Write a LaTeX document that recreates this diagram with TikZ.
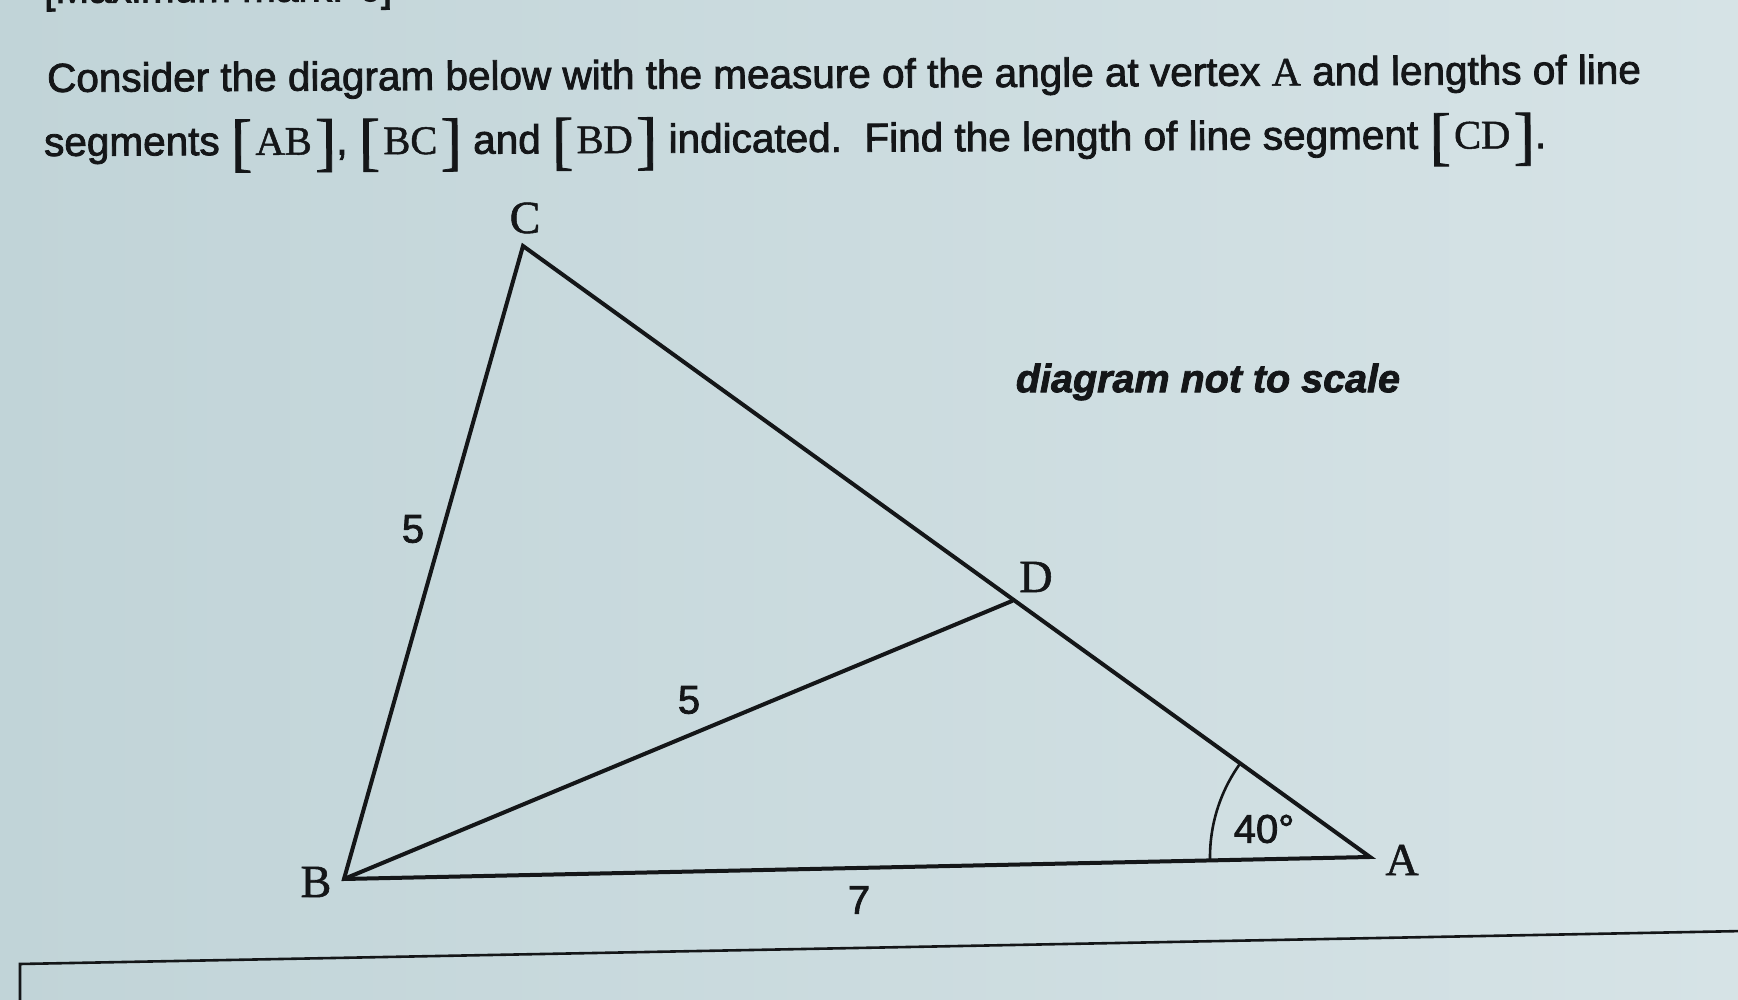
\documentclass[tikz,border=0pt]{standalone}
\usepackage{fontspec}
\setmainfont{Liberation Sans}[FakeBold=2]
\newfontfamily\tms{Liberation Serif}[FakeBold=1.2]
\usetikzlibrary{calc}
\definecolor{paperL}{RGB}{193,212,216}
\definecolor{paperR}{RGB}{214,227,230}
\definecolor{ink}{RGB}{20,22,24}
\newcommand{\bigbr}[1]{{\tms\fontsize{64}{64}\selectfont\raisebox{-0.14em}{#1}}}
\newcommand{\sgm}[1]{\bigbr{[}\kern0.08em{\tms #1}\kern0.08em\bigbr{]}}
\begin{document}
\begin{tikzpicture}[x=1pt,y=1pt,
  edge/.style={draw=ink,line width=4pt,line join=miter,line cap=round},
  vlabel/.style={font=\tms\fontsize{46}{46}\selectfont,text=ink,inner sep=0pt},
  num/.style={font=\fontsize{40}{40}\selectfont,text=ink,inner sep=0pt},
  hdr/.style={font=\fontsize{40.5}{44}\selectfont,text=ink,inner sep=0pt,anchor=base west,rotate=0.3}]
\useasboundingbox (0,0) rectangle (1738,1000);
\clip (0,0) rectangle (1738,1000);
\shade[left color=paperL,right color=paperR] (0,0) rectangle (1738,1000);
% header
\node[hdr] (mark) at (44,997) {[Maximum mark: 6]};
\node[hdr] (l1) at (47,908) {Consider the diagram below with the measure of the angle at vertex {\tms A} and lengths of line};
\node[hdr] (l2) at (44,844) {segments \sgm{AB}, \sgm{BC} and \sgm{BD} indicated.\ \ Find the length of line segment \sgm{CD}.};
% points
\coordinate (C) at (523,754);
\coordinate (B) at (344,121);
\coordinate (A) at (1370,143);
\coordinate (D) at (1012,399);
\draw[edge] (B) -- (C) -- (A) -- cycle;
\draw[edge] (B) -- (D);
\coordinate (arcS) at ($(A)+(144.2:160pt)$);
\draw[ink,line width=2.6pt] (arcS) arc[start angle=144.2,end angle=181.2,radius=160pt];
% labels
\node[vlabel] (lC) at (525,782) {C};
\node[vlabel] (lB) at (316,118) {B};
\node[vlabel] (lA) at (1402,140) {A};
\node[vlabel] (lD) at (1036,423) {D};
\node[num] (n1) at (413,471) {5};
\node[num] (n2) at (689,300) {5};
\node[num] (n3) at (859,100) {7};
\node[num] (ang) at (1264,171) {40\textdegree};
\node[font=\bfseries\itshape\fontsize{39.5}{40}\selectfont,text=ink,inner sep=0pt] (note) at (1208,618) {diagram not to scale};
% answer box edge
\coordinate (bx1) at (20,-5);
\coordinate (bx2) at (20,36);
\coordinate (bx3) at (1745,69);
\draw[ink,line width=2.6pt] (bx1) -- (bx2) -- (bx3);
\end{tikzpicture}
\end{document}
